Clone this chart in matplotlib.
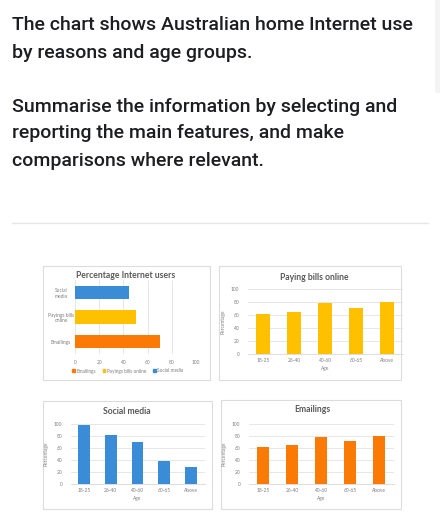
import matplotlib
matplotlib.use("Agg")
import matplotlib.pyplot as plt
from matplotlib.patches import Rectangle, Patch
from matplotlib.lines import Line2D

# ---------------- data ----------------
reasons = ["Emailings", "Payings bills\nonline", "Social\nmedia"]
reason_values = [70, 50, 45]
legend_labels = ["Emailings", "Payings bills online", "Social media"]

ages = ["18-25", "26-40", "40-60", "60-65", "Above"]
paying_bills = [61, 65, 78, 71, 80]
social_media = [98, 81, 70, 38, 28]
emailings = [61, 65, 78, 71, 80]

heading_lines = [
    "The chart shows Australian home Internet use",
    "by reasons and age groups.",
    "",
    "Summarise the information by selecting and",
    "reporting the main features, and make",
    "comparisons where relevant.",
]

C_ORANGE = "#FB7A05"
C_YELLOW = "#FFC000"
C_BLUE = "#3A8CD6"
GRID = "#e3e3e3"
TXT = "#7f7f7f"
TITLE = "#595959"
CF = "Lato"

W, H = 440, 512
fig = plt.figure(figsize=(W / 100, H / 100), dpi=100)
fig.patch.set_facecolor("white")


def fx(x):
    return x / W


def fy(y):
    return 1 - y / H


def ax_px(l, t, r, b):
    ax = fig.add_axes([l / W, 1 - b / H, (r - l) / W, (b - t) / H])
    ax.set_zorder(5)
    ax.patch.set_alpha(0)
    return ax


def frame(l, t, r, b):
    fig.patches.append(Rectangle((fx(l), fy(b)), (r - l) / W, (b - t) / H,
                                 transform=fig.transFigure, facecolor="white",
                                 edgecolor="#dcdcdc", lw=0.8, zorder=-5))


def chart_title(x, y, txt):
    fig.text(fx(x), fy(y), txt, fontsize=6.2, color=TITLE, family=CF,
             fontweight="bold", ha="center", va="center")


# heading
fig.patches.append(Rectangle((fx(435), fy(93)), 5 / W, 93 / H, transform=fig.transFigure,
                             facecolor="#f4f4f4", edgecolor="none", zorder=-5))
line_y = [25, 52, 79, 106, 133, 160]
for txt, y in zip(heading_lines, line_y):
    if txt:
        fig.text(fx(12), fy(y + 5.5), txt, fontsize=14, fontweight="medium",
                 family="Roboto", color="#1d1e22", ha="left", va="baseline")
fig.lines.append(Line2D([fx(12), fx(428)], [fy(223), fy(223)], transform=fig.transFigure,
                        color="#e6e6e6", lw=1.0, zorder=-5))

# frames
frame(43, 266, 210, 380)
frame(219, 266, 401, 380)
frame(43, 401, 212, 509)
frame(221, 400, 401, 509)


def style(ax, horizontal=False):
    for s in ax.spines.values():
        s.set_visible(False)
    ax.tick_params(length=0, labelsize=3.5, labelcolor=TXT, pad=2)
    for lab in ax.get_xticklabels() + ax.get_yticklabels():
        lab.set_family(CF)
    ax.set_axisbelow(True)
    if horizontal:
        ax.grid(axis="x", color=GRID, lw=0.6)
    else:
        ax.grid(axis="y", color=GRID, lw=0.6)
        ax.spines["bottom"].set_visible(True)
        ax.spines["bottom"].set_color("#d8d8d8")
        ax.spines["bottom"].set_linewidth(0.6)


# chart 1: horizontal bars
ax1 = ax_px(75, 280, 196, 354)
ax1.barh(range(3), reason_values, height=0.53, color=[C_ORANGE, C_YELLOW, C_BLUE])
ax1.set_xlim(0, 100)
ax1.set_ylim(-0.5, 2.5)
ax1.set_xticks([0, 20, 40, 60, 80, 100])
ax1.set_yticks(range(3))
ax1.set_yticklabels(reasons)
style(ax1, horizontal=True)
ax1.tick_params(axis="x", pad=4)
for lab in ax1.get_yticklabels():
    lab.set_horizontalalignment("center")
ax1.tick_params(axis="y", pad=10)
chart_title(126, 276, "Percentage Internet users")
handles = [Patch(color=c) for c in [C_ORANGE, C_YELLOW, C_BLUE]]
leg = ax1.legend(handles, legend_labels, ncol=3, loc="center",
                 bbox_to_anchor=(fx(128), fy(371)), bbox_transform=fig.transFigure,
                 frameon=False, prop={"family": CF, "size": 3.4}, handlelength=0.6,
                 handleheight=0.6, handletextpad=0.4, columnspacing=1.3)
for t in leg.get_texts():
    t.set_color(TXT)


def vbar(box, values, color):
    ax = ax_px(*box)
    ax.bar(range(len(ages)), values, width=0.44, color=color)
    ax.set_xlim(-0.5, len(ages) - 0.5)
    ax.set_ylim(0, 100)
    ax.set_xticks(range(len(ages)))
    ax.set_xticklabels(ages)
    ax.set_yticks([0, 20, 40, 60, 80, 100])
    style(ax)
    ax.tick_params(axis="y", pad=6)
    ax.tick_params(axis="x", pad=3)
    ax.set_xlabel("Age", fontsize=3.5, color=TXT, family=CF, labelpad=2)
    ax.set_ylabel("Percentage", fontsize=3.5, color=TXT, family=CF, labelpad=4)
    return ax


vbar((247.5, 289, 402.5, 354), paying_bills, C_YELLOW)
chart_title(314, 277, "Paying bills online")
vbar((70.5, 424, 204.5, 484), social_media, C_BLUE)
chart_title(127, 412, "Social media")
vbar((248.5, 424, 393.5, 484), emailings, C_ORANGE)
chart_title(312, 410, "Emailings")

fig.savefig("out.png", dpi=100)
